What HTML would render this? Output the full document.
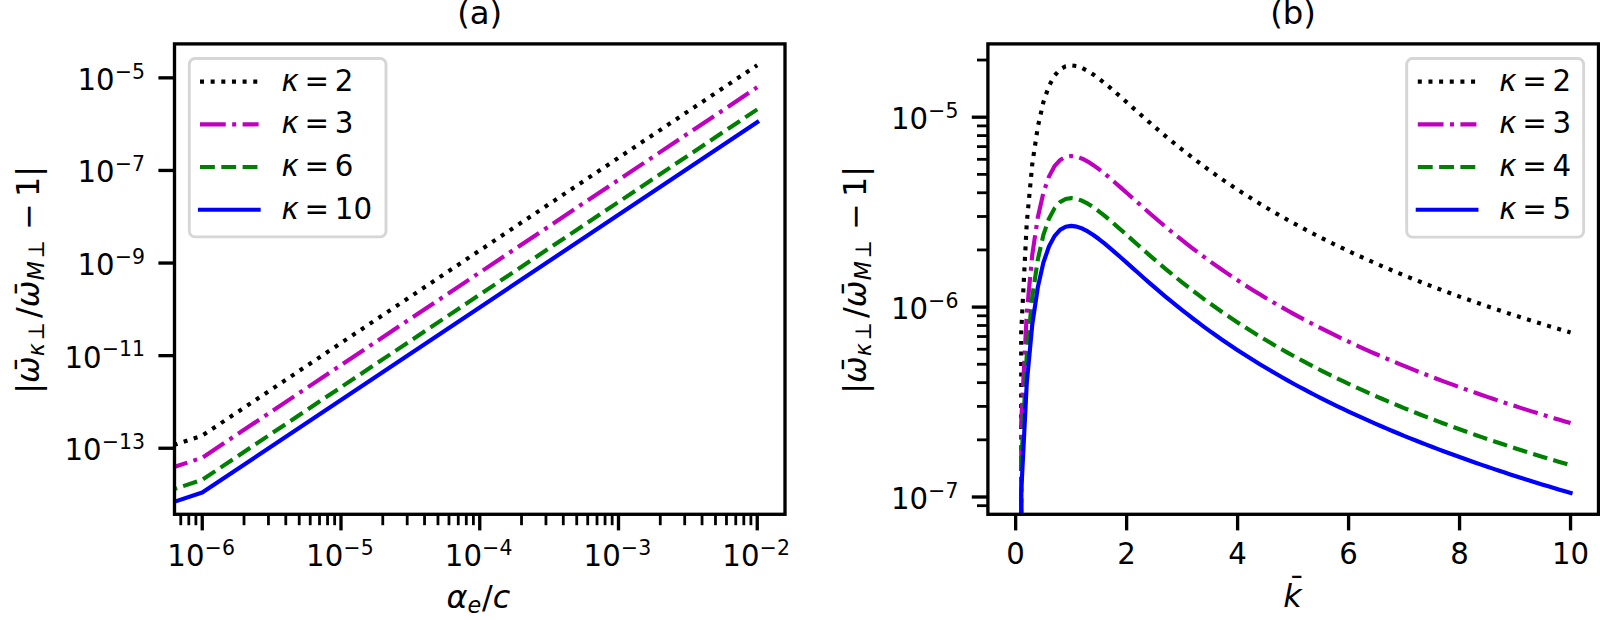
<!DOCTYPE html>
<html><head><meta charset="utf-8"><title>figure</title>
<style>
html,body{margin:0;padding:0;background:#fff;}
body{width:1600px;height:620px;overflow:hidden;}
svg{display:block;}
svg text{font-family:"DejaVu Sans","Liberation Sans",sans-serif;fill:#000;white-space:pre;}
</style></head><body>
<svg width="1600" height="620" viewBox="0 0 1600 620">
<rect width="1600" height="620" fill="#fff"/>
<clipPath id="ca"><rect x="174.5" y="43.9" width="610.5" height="470.4"/></clipPath>
<clipPath id="cb"><rect x="987.9" y="43.9" width="610.6" height="470.4"/></clipPath>
<path d="M134.5 458.04L202.25 435.61L757.25 65.21" fill="none" stroke="#000000" stroke-width="4.15" stroke-linejoin="round" stroke-dasharray="3.97 6.55" stroke-dashoffset="0.78" clip-path="url(#ca)"/>
<path d="M134.5 480.13L202.25 457.7L757.25 87.3" fill="none" stroke="#bf00bf" stroke-width="4.15" stroke-linejoin="round" stroke-dasharray="25.39 6.35 3.97 6.35" stroke-dashoffset="11.77" clip-path="url(#ca)"/>
<path d="M134.5 502.22L202.25 479.79L757.25 109.39" fill="none" stroke="#008000" stroke-width="4.15" stroke-linejoin="round" stroke-dasharray="14.68 6.35" stroke-dashoffset="11.85" clip-path="url(#ca)"/>
<path d="M134.5 515.01L202.25 492.58L757.25 122.18" fill="none" stroke="#0000ff" stroke-width="4.15" stroke-linejoin="round" clip-path="url(#ca)" stroke-linecap="square"/>
<path d="M180.76 514.3L180.76 525.2" stroke="#000" stroke-width="2.8"/>
<path d="M188.8 514.3L188.8 525.2" stroke="#000" stroke-width="2.8"/>
<path d="M195.9 514.3L195.9 525.2" stroke="#000" stroke-width="2.8"/>
<path d="M202.25 514.3L202.25 530.4" stroke="#000" stroke-width="3.33"/>
<path d="M244.02 514.3L244.02 525.2" stroke="#000" stroke-width="2.8"/>
<path d="M268.45 514.3L268.45 525.2" stroke="#000" stroke-width="2.8"/>
<path d="M285.79 514.3L285.79 525.2" stroke="#000" stroke-width="2.8"/>
<path d="M299.23 514.3L299.23 525.2" stroke="#000" stroke-width="2.8"/>
<path d="M310.22 514.3L310.22 525.2" stroke="#000" stroke-width="2.8"/>
<path d="M319.51 514.3L319.51 525.2" stroke="#000" stroke-width="2.8"/>
<path d="M327.55 514.3L327.55 525.2" stroke="#000" stroke-width="2.8"/>
<path d="M334.65 514.3L334.65 525.2" stroke="#000" stroke-width="2.8"/>
<path d="M341 514.3L341 530.4" stroke="#000" stroke-width="3.33"/>
<path d="M382.77 514.3L382.77 525.2" stroke="#000" stroke-width="2.8"/>
<path d="M407.2 514.3L407.2 525.2" stroke="#000" stroke-width="2.8"/>
<path d="M424.54 514.3L424.54 525.2" stroke="#000" stroke-width="2.8"/>
<path d="M437.98 514.3L437.98 525.2" stroke="#000" stroke-width="2.8"/>
<path d="M448.97 514.3L448.97 525.2" stroke="#000" stroke-width="2.8"/>
<path d="M458.26 514.3L458.26 525.2" stroke="#000" stroke-width="2.8"/>
<path d="M466.3 514.3L466.3 525.2" stroke="#000" stroke-width="2.8"/>
<path d="M473.4 514.3L473.4 525.2" stroke="#000" stroke-width="2.8"/>
<path d="M479.75 514.3L479.75 530.4" stroke="#000" stroke-width="3.33"/>
<path d="M521.52 514.3L521.52 525.2" stroke="#000" stroke-width="2.8"/>
<path d="M545.95 514.3L545.95 525.2" stroke="#000" stroke-width="2.8"/>
<path d="M563.29 514.3L563.29 525.2" stroke="#000" stroke-width="2.8"/>
<path d="M576.73 514.3L576.73 525.2" stroke="#000" stroke-width="2.8"/>
<path d="M587.72 514.3L587.72 525.2" stroke="#000" stroke-width="2.8"/>
<path d="M597.01 514.3L597.01 525.2" stroke="#000" stroke-width="2.8"/>
<path d="M605.05 514.3L605.05 525.2" stroke="#000" stroke-width="2.8"/>
<path d="M612.15 514.3L612.15 525.2" stroke="#000" stroke-width="2.8"/>
<path d="M618.5 514.3L618.5 530.4" stroke="#000" stroke-width="3.33"/>
<path d="M660.27 514.3L660.27 525.2" stroke="#000" stroke-width="2.8"/>
<path d="M684.7 514.3L684.7 525.2" stroke="#000" stroke-width="2.8"/>
<path d="M702.04 514.3L702.04 525.2" stroke="#000" stroke-width="2.8"/>
<path d="M715.48 514.3L715.48 525.2" stroke="#000" stroke-width="2.8"/>
<path d="M726.47 514.3L726.47 525.2" stroke="#000" stroke-width="2.8"/>
<path d="M735.76 514.3L735.76 525.2" stroke="#000" stroke-width="2.8"/>
<path d="M743.8 514.3L743.8 525.2" stroke="#000" stroke-width="2.8"/>
<path d="M750.9 514.3L750.9 525.2" stroke="#000" stroke-width="2.8"/>
<path d="M757.25 514.3L757.25 530.4" stroke="#000" stroke-width="3.33"/>
<g transform="translate(201.55 565.7) scale(1.0 1.045)"><text>
<tspan x="-34.19" y="0" style="font-size:29.2px;">10</tspan>
<tspan x="3.24" y="-10.68" style="font-size:20.44px;">−6</tspan>
</text>
</g>
<g transform="translate(340.3 565.7) scale(1.0 1.045)"><text>
<tspan x="-34.19" y="0" style="font-size:29.2px;">10</tspan>
<tspan x="3.24" y="-10.68" style="font-size:20.44px;">−5</tspan>
</text>
</g>
<g transform="translate(479.05 565.7) scale(1.0 1.045)"><text>
<tspan x="-34.19" y="0" style="font-size:29.2px;">10</tspan>
<tspan x="3.24" y="-10.68" style="font-size:20.44px;">−4</tspan>
</text>
</g>
<g transform="translate(617.8 565.7) scale(1.0 1.045)"><text>
<tspan x="-34.19" y="0" style="font-size:29.2px;">10</tspan>
<tspan x="3.24" y="-10.68" style="font-size:20.44px;">−3</tspan>
</text>
</g>
<g transform="translate(756.55 565.7) scale(1.0 1.045)"><text>
<tspan x="-34.19" y="0" style="font-size:29.2px;">10</tspan>
<tspan x="3.24" y="-10.68" style="font-size:20.44px;">−2</tspan>
</text>
</g>
<path d="M174.5 77.85L158.4 77.85" stroke="#000" stroke-width="3.33"/>
<g transform="translate(145.9 89.85) scale(1.0 1.045)"><text>
<tspan x="-68.39" y="0" style="font-size:29.2px;">10</tspan>
<tspan x="-30.95" y="-10.68" style="font-size:20.44px;">−5</tspan>
</text>
</g>
<path d="M174.5 170.45L158.4 170.45" stroke="#000" stroke-width="3.33"/>
<g transform="translate(145.9 182.45) scale(1.0 1.045)"><text>
<tspan x="-68.39" y="0" style="font-size:29.2px;">10</tspan>
<tspan x="-30.95" y="-10.68" style="font-size:20.44px;">−7</tspan>
</text>
</g>
<path d="M174.5 263.05L158.4 263.05" stroke="#000" stroke-width="3.33"/>
<g transform="translate(145.9 275.05) scale(1.0 1.045)"><text>
<tspan x="-68.39" y="0" style="font-size:29.2px;">10</tspan>
<tspan x="-30.95" y="-10.68" style="font-size:20.44px;">−9</tspan>
</text>
</g>
<path d="M174.5 355.65L158.4 355.65" stroke="#000" stroke-width="3.33"/>
<g transform="translate(145.9 367.65) scale(1.0 1.045)"><text>
<tspan x="-81.38" y="0" style="font-size:29.2px;">10</tspan>
<tspan x="-43.95" y="-10.68" style="font-size:20.44px;">−11</tspan>
</text>
</g>
<path d="M174.5 448.25L158.4 448.25" stroke="#000" stroke-width="3.33"/>
<g transform="translate(145.9 460.25) scale(1.0 1.045)"><text>
<tspan x="-81.38" y="0" style="font-size:29.2px;">10</tspan>
<tspan x="-43.95" y="-10.68" style="font-size:20.44px;">−13</tspan>
</text>
</g>
<rect x="174.5" y="43.9" width="610.5" height="470.4" fill="none" stroke="#000" stroke-width="3.33"/>
<text x="479.65" y="24.1" style="font-size:32.3px" text-anchor="middle">(a)</text>
<g transform="translate(478.4 608)"><text>
<tspan x="-31.91" y="0" style="font-size:31.85px;font-style:oblique;">α</tspan>
<tspan x="-10.92" y="5.23" style="font-size:22.29px;font-style:oblique;">e</tspan>
<tspan x="3.67" y="0" style="font-size:31.85px;">/</tspan>
<tspan x="14.4" y="0" style="font-size:31.85px;font-style:oblique;">c</tspan>
</text>
</g>
<g transform="translate(39.2 279.9) rotate(-90)"><text>
<tspan x="-113.96" y="0" style="font-size:31.85px;">|</tspan>
<tspan x="-92.61" y="0.03" style="font-size:31.85px;">¯</tspan>
<tspan x="-103.23" y="0" style="font-size:31.85px;font-style:oblique;">ω</tspan>
<tspan x="-76.25" y="5.23" style="font-size:22.29px;font-style:oblique;">κ</tspan>
<tspan x="-60.27" y="5.23" style="font-size:22.29px;font-family:'DejaVu Math TeX Gyre','DejaVu Sans',sans-serif;">⊥</tspan>
<tspan x="-38.1" y="0" style="font-size:31.85px;">/</tspan>
<tspan x="-16.76" y="0.03" style="font-size:31.85px;">¯</tspan>
<tspan x="-27.37" y="0" style="font-size:31.85px;font-style:oblique;">ω</tspan>
<tspan x="-0.4" y="5.23" style="font-size:22.29px;font-style:oblique;">M</tspan>
<tspan x="21.68" y="5.23" style="font-size:22.29px;font-family:'DejaVu Math TeX Gyre','DejaVu Sans',sans-serif;">⊥</tspan>
<tspan x="50.05" y="0" style="font-size:31.85px;">−</tspan>
<tspan x="82.94" y="0" style="font-size:31.85px;">1|</tspan>
</text>
</g>
<rect x="189.3" y="58.5" width="196.7" height="178.4" rx="5.8" ry="5.8" fill="#fff" fill-opacity="0.8" stroke="#d6d6d6" stroke-width="2.9"/>
<path d="M200 81.6L258.6 81.6" stroke="#000000" stroke-width="4.15" stroke-dasharray="4.02 6.63"/>
<g transform="translate(281.6 90.6)"><text>
<tspan x="0" y="0" style="font-size:29.3px;font-style:oblique;">κ</tspan>
<tspan x="22.98" y="0" style="font-size:29.3px;">=</tspan>
<tspan x="53.24" y="0" style="font-size:29.3px;">2</tspan>
</text>
</g>
<path d="M200 124.3L258.6 124.3" stroke="#bf00bf" stroke-width="4.15" stroke-dasharray="25.73 6.43 4.02 6.43"/>
<g transform="translate(281.6 133.3)"><text>
<tspan x="0" y="0" style="font-size:29.3px;font-style:oblique;">κ</tspan>
<tspan x="22.98" y="0" style="font-size:29.3px;">=</tspan>
<tspan x="53.24" y="0" style="font-size:29.3px;">3</tspan>
</text>
</g>
<path d="M200 167L258.6 167" stroke="#008000" stroke-width="4.15" stroke-dasharray="14.87 6.43"/>
<g transform="translate(281.6 176)"><text>
<tspan x="0" y="0" style="font-size:29.3px;font-style:oblique;">κ</tspan>
<tspan x="22.98" y="0" style="font-size:29.3px;">=</tspan>
<tspan x="53.24" y="0" style="font-size:29.3px;">6</tspan>
</text>
</g>
<path d="M200 209.75L258.6 209.75" stroke="#0000ff" stroke-width="4.15" stroke-linecap="square"/>
<g transform="translate(281.6 218.75)"><text>
<tspan x="0" y="0" style="font-size:29.3px;font-style:oblique;">κ</tspan>
<tspan x="22.98" y="0" style="font-size:29.3px;">=</tspan>
<tspan x="53.24" y="0" style="font-size:29.3px;">10</tspan>
</text>
</g>
<path d="M1021.2 544.3L1021.2 332.47L1026.75 222.96L1032.3 163.83L1037.85 126.64L1043.39 102.16L1048.94 86L1054.49 75.63L1060.04 69.43L1065.59 66.27L1071.14 65.36L1076.69 66.11L1082.24 68.08L1087.79 70.97L1093.34 74.52L1098.88 78.56L1104.43 82.94L1109.98 87.56L1115.53 92.35L1121.08 97.23L1126.63 102.16L1132.18 107.12L1137.73 112.06L1143.28 116.97L1148.83 121.84L1154.38 126.64L1159.92 131.39L1165.47 136.06L1171.02 140.66L1176.57 145.18L1182.12 149.62L1187.67 153.97L1193.22 158.25L1198.77 162.45L1204.32 166.57L1209.87 170.61L1215.41 174.57L1220.96 178.46L1226.51 182.27L1232.06 186.02L1237.61 189.69L1243.16 193.29L1248.71 196.83L1254.26 200.31L1259.81 203.72L1265.36 207.07L1270.9 210.36L1276.45 213.59L1282 216.77L1287.55 219.89L1293.1 222.96L1298.65 225.98L1304.2 228.95L1309.75 231.88L1315.3 234.75L1320.85 237.58L1326.39 240.37L1331.94 243.11L1337.49 245.81L1343.04 248.47L1348.59 251.09L1354.14 253.67L1359.69 256.21L1365.24 258.72L1370.79 261.19L1376.34 263.63L1381.88 266.03L1387.43 268.4L1392.98 270.74L1398.53 273.05L1404.08 275.33L1409.63 277.57L1415.18 279.79L1420.73 281.98L1426.28 284.15L1431.83 286.28L1437.37 288.39L1442.92 290.47L1448.47 292.53L1454.02 294.57L1459.57 296.58L1465.12 298.56L1470.67 300.53L1476.22 302.47L1481.77 304.39L1487.32 306.29L1492.86 308.16L1498.41 310.02L1503.96 311.86L1509.51 313.67L1515.06 315.47L1520.61 317.25L1526.16 319.01L1531.71 320.75L1537.26 322.48L1542.8 324.18L1548.35 325.87L1553.9 327.55L1559.45 329.2L1565 330.84L1570.55 332.47" fill="none" stroke="#000000" stroke-width="4.15" stroke-linejoin="round" stroke-dasharray="3.97 6.55" stroke-dashoffset="0.44" clip-path="url(#cb)"/>
<path d="M1021.2 544.3L1021.2 423.07L1026.75 313.57L1032.3 254.44L1037.85 217.25L1043.39 192.77L1048.94 176.61L1054.49 166.24L1060.04 160.04L1065.59 156.88L1071.14 155.96L1076.69 156.71L1082.24 158.69L1087.79 161.58L1093.34 165.13L1098.88 169.17L1104.43 173.55L1109.98 178.17L1115.53 182.95L1121.08 187.83L1126.63 192.77L1132.18 197.72L1137.73 202.66L1143.28 207.57L1148.83 212.44L1154.38 217.25L1159.92 221.99L1165.47 226.67L1171.02 231.26L1176.57 235.78L1182.12 240.22L1187.67 244.58L1193.22 248.86L1198.77 253.05L1204.32 257.17L1209.87 261.21L1215.41 265.17L1220.96 269.06L1226.51 272.88L1232.06 276.62L1237.61 280.29L1243.16 283.9L1248.71 287.44L1254.26 290.91L1259.81 294.32L1265.36 297.67L1270.9 300.96L1276.45 304.2L1282 307.37L1287.55 310.5L1293.1 313.57L1298.65 316.59L1304.2 319.56L1309.75 322.48L1315.3 325.36L1320.85 328.19L1326.39 330.97L1331.94 333.71L1337.49 336.41L1343.04 339.07L1348.59 341.69L1354.14 344.27L1359.69 346.82L1365.24 349.33L1370.79 351.8L1376.34 354.23L1381.88 356.64L1387.43 359.01L1392.98 361.35L1398.53 363.65L1404.08 365.93L1409.63 368.18L1415.18 370.4L1420.73 372.59L1426.28 374.75L1431.83 376.89L1437.37 379L1442.92 381.08L1448.47 383.14L1454.02 385.17L1459.57 387.18L1465.12 389.17L1470.67 391.13L1476.22 393.07L1481.77 394.99L1487.32 396.89L1492.86 398.77L1498.41 400.63L1503.96 402.46L1509.51 404.28L1515.06 406.08L1520.61 407.86L1526.16 409.62L1531.71 411.36L1537.26 413.08L1542.8 414.79L1548.35 416.48L1553.9 418.15L1559.45 419.81L1565 421.45L1570.55 423.07" fill="none" stroke="#bf00bf" stroke-width="4.15" stroke-linejoin="round" stroke-dasharray="25.39 6.35 3.97 6.35" stroke-dashoffset="10.17" clip-path="url(#cb)"/>
<path d="M1021.2 544.3L1021.2 465.2L1026.75 355.7L1032.3 296.56L1037.85 259.38L1043.39 234.9L1048.94 218.74L1054.49 208.37L1060.04 202.16L1065.59 199.01L1071.14 198.09L1076.69 198.84L1082.24 200.82L1087.79 203.7L1093.34 207.26L1098.88 211.29L1104.43 215.68L1109.98 220.3L1115.53 225.08L1121.08 229.96L1126.63 234.9L1132.18 239.85L1137.73 244.79L1143.28 249.7L1148.83 254.57L1154.38 259.38L1159.92 264.12L1165.47 268.8L1171.02 273.39L1176.57 277.91L1182.12 282.35L1187.67 286.71L1193.22 290.99L1198.77 295.18L1204.32 299.3L1209.87 303.34L1215.41 307.3L1220.96 311.19L1226.51 315.01L1232.06 318.75L1237.61 322.42L1243.16 326.03L1248.71 329.57L1254.26 333.04L1259.81 336.45L1265.36 339.8L1270.9 343.09L1276.45 346.33L1282 349.5L1287.55 352.63L1293.1 355.7L1298.65 358.72L1304.2 361.69L1309.75 364.61L1315.3 367.49L1320.85 370.31L1326.39 373.1L1331.94 375.84L1337.49 378.54L1343.04 381.2L1348.59 383.82L1354.14 386.4L1359.69 388.95L1365.24 391.45L1370.79 393.93L1376.34 396.36L1381.88 398.77L1387.43 401.14L1392.98 403.48L1398.53 405.78L1404.08 408.06L1409.63 410.31L1415.18 412.53L1420.73 414.72L1426.28 416.88L1431.83 419.02L1437.37 421.12L1442.92 423.21L1448.47 425.27L1454.02 427.3L1459.57 429.31L1465.12 431.3L1470.67 433.26L1476.22 435.2L1481.77 437.12L1487.32 439.02L1492.86 440.9L1498.41 442.75L1503.96 444.59L1509.51 446.41L1515.06 448.21L1520.61 449.98L1526.16 451.74L1531.71 453.49L1537.26 455.21L1542.8 456.92L1548.35 458.61L1553.9 460.28L1559.45 461.94L1565 463.58L1570.55 465.2" fill="none" stroke="#008000" stroke-width="4.15" stroke-linejoin="round" stroke-dasharray="14.68 6.35" stroke-dashoffset="10.61" clip-path="url(#cb)"/>
<path d="M1021.2 544.3L1021.2 492.95L1026.75 383.45L1032.3 324.31L1037.85 287.13L1043.39 262.65L1048.94 246.49L1054.49 236.12L1060.04 229.91L1065.59 226.76L1071.14 225.84L1076.69 226.59L1082.24 228.57L1087.79 231.45L1093.34 235.01L1098.88 239.04L1104.43 243.43L1109.98 248.05L1115.53 252.83L1121.08 257.71L1126.63 262.65L1132.18 267.6L1137.73 272.54L1143.28 277.45L1148.83 282.32L1154.38 287.13L1159.92 291.87L1165.47 296.55L1171.02 301.14L1176.57 305.66L1182.12 310.1L1187.67 314.46L1193.22 318.74L1198.77 322.93L1204.32 327.05L1209.87 331.09L1215.41 335.05L1220.96 338.94L1226.51 342.76L1232.06 346.5L1237.61 350.17L1243.16 353.78L1248.71 357.32L1254.26 360.79L1259.81 364.2L1265.36 367.55L1270.9 370.84L1276.45 374.08L1282 377.25L1287.55 380.38L1293.1 383.45L1298.65 386.47L1304.2 389.44L1309.75 392.36L1315.3 395.23L1320.85 398.06L1326.39 400.85L1331.94 403.59L1337.49 406.29L1343.04 408.95L1348.59 411.57L1354.14 414.15L1359.69 416.7L1365.24 419.2L1370.79 421.68L1376.34 424.11L1381.88 426.52L1387.43 428.89L1392.98 431.23L1398.53 433.53L1404.08 435.81L1409.63 438.06L1415.18 440.28L1420.73 442.47L1426.28 444.63L1431.83 446.76L1437.37 448.87L1442.92 450.96L1448.47 453.02L1454.02 455.05L1459.57 457.06L1465.12 459.05L1470.67 461.01L1476.22 462.95L1481.77 464.87L1487.32 466.77L1492.86 468.65L1498.41 470.5L1503.96 472.34L1509.51 474.16L1515.06 475.96L1520.61 477.73L1526.16 479.49L1531.71 481.24L1537.26 482.96L1542.8 484.67L1548.35 486.36L1553.9 488.03L1559.45 489.69L1565 491.33L1570.55 492.95" fill="none" stroke="#0000ff" stroke-width="4.15" stroke-linejoin="round" clip-path="url(#cb)" stroke-linecap="square"/>
<path d="M1015.65 514.3L1015.65 530.4" stroke="#000" stroke-width="3.33"/>
<text transform="translate(1015.65 563.7) scale(1 1.045)" style="font-size:29.2px" text-anchor="middle">0</text>
<path d="M1126.63 514.3L1126.63 530.4" stroke="#000" stroke-width="3.33"/>
<text transform="translate(1126.63 563.7) scale(1 1.045)" style="font-size:29.2px" text-anchor="middle">2</text>
<path d="M1237.61 514.3L1237.61 530.4" stroke="#000" stroke-width="3.33"/>
<text transform="translate(1237.61 563.7) scale(1 1.045)" style="font-size:29.2px" text-anchor="middle">4</text>
<path d="M1348.59 514.3L1348.59 530.4" stroke="#000" stroke-width="3.33"/>
<text transform="translate(1348.59 563.7) scale(1 1.045)" style="font-size:29.2px" text-anchor="middle">6</text>
<path d="M1459.57 514.3L1459.57 530.4" stroke="#000" stroke-width="3.33"/>
<text transform="translate(1459.57 563.7) scale(1 1.045)" style="font-size:29.2px" text-anchor="middle">8</text>
<path d="M1570.55 514.3L1570.55 530.4" stroke="#000" stroke-width="3.33"/>
<text transform="translate(1570.55 563.7) scale(1 1.045)" style="font-size:29.2px" text-anchor="middle">10</text>
<path d="M987.9 505.69L977 505.69" stroke="#000" stroke-width="2.8"/>
<path d="M987.9 497L971.8 497" stroke="#000" stroke-width="3.33"/>
<g transform="translate(959.3 509) scale(1.0 1.045)"><text>
<tspan x="-68.39" y="0" style="font-size:29.2px;">10</tspan>
<tspan x="-30.95" y="-10.68" style="font-size:20.44px;">−7</tspan>
</text>
</g>
<path d="M987.9 439.83L977 439.83" stroke="#000" stroke-width="2.8"/>
<path d="M987.9 406.39L977 406.39" stroke="#000" stroke-width="2.8"/>
<path d="M987.9 382.67L977 382.67" stroke="#000" stroke-width="2.8"/>
<path d="M987.9 364.27L977 364.27" stroke="#000" stroke-width="2.8"/>
<path d="M987.9 349.23L977 349.23" stroke="#000" stroke-width="2.8"/>
<path d="M987.9 336.52L977 336.52" stroke="#000" stroke-width="2.8"/>
<path d="M987.9 325.5L977 325.5" stroke="#000" stroke-width="2.8"/>
<path d="M987.9 315.79L977 315.79" stroke="#000" stroke-width="2.8"/>
<path d="M987.9 307.1L971.8 307.1" stroke="#000" stroke-width="3.33"/>
<g transform="translate(959.3 319.1) scale(1.0 1.045)"><text>
<tspan x="-68.39" y="0" style="font-size:29.2px;">10</tspan>
<tspan x="-30.95" y="-10.68" style="font-size:20.44px;">−6</tspan>
</text>
</g>
<path d="M987.9 249.93L977 249.93" stroke="#000" stroke-width="2.8"/>
<path d="M987.9 216.49L977 216.49" stroke="#000" stroke-width="2.8"/>
<path d="M987.9 192.77L977 192.77" stroke="#000" stroke-width="2.8"/>
<path d="M987.9 174.37L977 174.37" stroke="#000" stroke-width="2.8"/>
<path d="M987.9 159.33L977 159.33" stroke="#000" stroke-width="2.8"/>
<path d="M987.9 146.62L977 146.62" stroke="#000" stroke-width="2.8"/>
<path d="M987.9 135.6L977 135.6" stroke="#000" stroke-width="2.8"/>
<path d="M987.9 125.89L977 125.89" stroke="#000" stroke-width="2.8"/>
<path d="M987.9 117.2L971.8 117.2" stroke="#000" stroke-width="3.33"/>
<g transform="translate(959.3 129.2) scale(1.0 1.045)"><text>
<tspan x="-68.39" y="0" style="font-size:29.2px;">10</tspan>
<tspan x="-30.95" y="-10.68" style="font-size:20.44px;">−5</tspan>
</text>
</g>
<path d="M987.9 60.03L977 60.03" stroke="#000" stroke-width="2.8"/>
<rect x="987.9" y="43.9" width="610.6" height="470.4" fill="none" stroke="#000" stroke-width="3.33"/>
<text x="1293.1" y="23.9" style="font-size:32.3px" text-anchor="middle">(b)</text>
<g transform="translate(1292.6 607.1)"><text>
<tspan x="-3.77" y="-6.75" style="font-size:31.85px;">¯</tspan>
<tspan x="-9.24" y="0" style="font-size:31.85px;font-style:oblique;">k</tspan>
</text>
</g>
<g transform="translate(865.5 279.9) rotate(-90)"><text>
<tspan x="-113.96" y="0" style="font-size:31.85px;">|</tspan>
<tspan x="-92.61" y="0.03" style="font-size:31.85px;">¯</tspan>
<tspan x="-103.23" y="0" style="font-size:31.85px;font-style:oblique;">ω</tspan>
<tspan x="-76.25" y="5.23" style="font-size:22.29px;font-style:oblique;">κ</tspan>
<tspan x="-60.27" y="5.23" style="font-size:22.29px;font-family:'DejaVu Math TeX Gyre','DejaVu Sans',sans-serif;">⊥</tspan>
<tspan x="-38.1" y="0" style="font-size:31.85px;">/</tspan>
<tspan x="-16.76" y="0.03" style="font-size:31.85px;">¯</tspan>
<tspan x="-27.37" y="0" style="font-size:31.85px;font-style:oblique;">ω</tspan>
<tspan x="-0.4" y="5.23" style="font-size:22.29px;font-style:oblique;">M</tspan>
<tspan x="21.68" y="5.23" style="font-size:22.29px;font-family:'DejaVu Math TeX Gyre','DejaVu Sans',sans-serif;">⊥</tspan>
<tspan x="50.05" y="0" style="font-size:31.85px;">−</tspan>
<tspan x="82.94" y="0" style="font-size:31.85px;">1|</tspan>
</text>
</g>
<rect x="1406.7" y="58.5" width="176.9" height="178.6" rx="5.8" ry="5.8" fill="#fff" fill-opacity="0.8" stroke="#d6d6d6" stroke-width="2.9"/>
<path d="M1417.8 81.6L1476.4 81.6" stroke="#000000" stroke-width="4.15" stroke-dasharray="4.02 6.63"/>
<g transform="translate(1499.2 90.6)"><text>
<tspan x="0" y="0" style="font-size:29.3px;font-style:oblique;">κ</tspan>
<tspan x="22.98" y="0" style="font-size:29.3px;">=</tspan>
<tspan x="53.24" y="0" style="font-size:29.3px;">2</tspan>
</text>
</g>
<path d="M1417.8 124.3L1476.4 124.3" stroke="#bf00bf" stroke-width="4.15" stroke-dasharray="25.73 6.43 4.02 6.43"/>
<g transform="translate(1499.2 133.3)"><text>
<tspan x="0" y="0" style="font-size:29.3px;font-style:oblique;">κ</tspan>
<tspan x="22.98" y="0" style="font-size:29.3px;">=</tspan>
<tspan x="53.24" y="0" style="font-size:29.3px;">3</tspan>
</text>
</g>
<path d="M1417.8 167L1476.4 167" stroke="#008000" stroke-width="4.15" stroke-dasharray="14.87 6.43"/>
<g transform="translate(1499.2 176)"><text>
<tspan x="0" y="0" style="font-size:29.3px;font-style:oblique;">κ</tspan>
<tspan x="22.98" y="0" style="font-size:29.3px;">=</tspan>
<tspan x="53.24" y="0" style="font-size:29.3px;">4</tspan>
</text>
</g>
<path d="M1417.8 209.75L1476.4 209.75" stroke="#0000ff" stroke-width="4.15" stroke-linecap="square"/>
<g transform="translate(1499.2 218.75)"><text>
<tspan x="0" y="0" style="font-size:29.3px;font-style:oblique;">κ</tspan>
<tspan x="22.98" y="0" style="font-size:29.3px;">=</tspan>
<tspan x="53.24" y="0" style="font-size:29.3px;">5</tspan>
</text>
</g>
</svg>
</body></html>
